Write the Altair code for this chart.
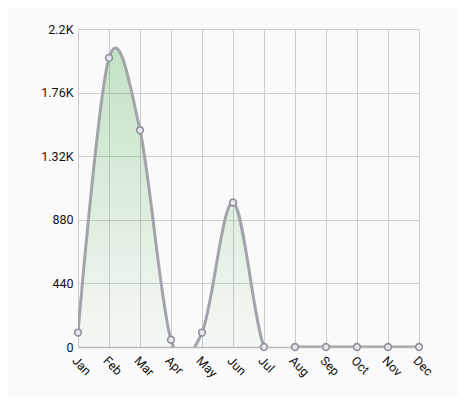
import altair as alt
import pandas as pd

months = ["Jan", "Feb", "Mar", "Apr", "May", "Jun", "Jul", "Aug", "Sep", "Oct", "Nov", "Dec"]
values = [100, 2000, 1500, 50, 100, 1000, 0, 0, 0, 0, 0, 0]
y_ticks = [0, 440, 880, 1320, 1760, 2200]

df = pd.DataFrame({"month": months, "value": values})

FONT = "Roboto"

x = alt.X("month:N", sort=months, title=None,
          scale=alt.Scale(type="point", padding=0),
          axis=alt.Axis(labelAngle=45, labelAlign="left", labelBaseline="top",
                        labelPadding=7, ticks=False, domainColor="#b8b8b8",
                        domainWidth=1.5, grid=True, gridColor="#cccccc",
                        labelFontSize=12.5, labelColor="#111111", labelFont=FONT))
y = alt.Y("value:Q", title=None,
          scale=alt.Scale(domain=[0, 2200], nice=False),
          axis=alt.Axis(values=y_ticks, ticks=False, domain=False, labelPadding=5,
                        gridColor="#cccccc", labelFontSize=12.5, labelColor="#111111",
                        labelFont=FONT,
                        labelExpr="datum.value >= 1000 ? format(datum.value/1000, '.3~') + 'K' : format(datum.value, 'd')"))

base = alt.Chart(df).encode(x=x, y=y)

area = base.mark_area(
    interpolate="cardinal", clip=True,
    line={"color": "#a3a3ab", "strokeWidth": 3},
    color=alt.Gradient(gradient="linear",
                       stops=[alt.GradientStop(color="rgba(76,175,80,0.45)", offset=0),
                              alt.GradientStop(color="rgba(76,175,80,0.03)", offset=1)],
                       x1=1, x2=1, y1=0, y2=1),
)
points = base.mark_point(filled=True, size=45, fill="#e6e6ee", stroke="#909098",
                         strokeWidth=1.6, opacity=1)

chart = (area + points).properties(
    width=341, height=318,
    autosize=alt.AutoSizeParams(type="none"),
    padding={"left": 70, "top": 21, "right": 40, "bottom": 50},
    background="#fafafa",
).configure_view(stroke=None)

chart.save("out.html", embed_options={"renderer": "svg", "actions": False})
